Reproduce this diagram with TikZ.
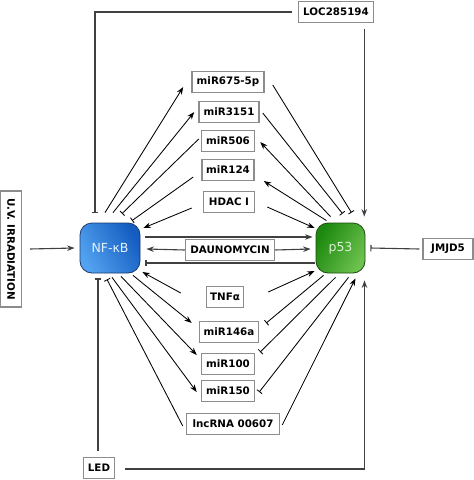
\documentclass[tikz,border=0pt]{standalone}
\usepackage{fontspec}
\setmainfont{DejaVu Sans}
\usetikzlibrary{arrows.meta,calc}
\definecolor{boxgray}{HTML}{8C8C8C}
\definecolor{nfA}{HTML}{52A2F0}
\definecolor{nfB}{HTML}{145CC0}
\definecolor{nfD}{HTML}{1A3A6E}
\definecolor{pA}{HTML}{1C880E}
\definecolor{pB}{HTML}{6CC24E}
\definecolor{pD}{HTML}{1E4A12}
\definecolor{lineT}{HTML}{404040}
\begin{document}
\begin{tikzpicture}[x=1pt,y=-1pt,
  box/.style={draw=boxgray, line width=1.5pt, fill=white, font=\bfseries\fontsize{10.3}{12}\selectfont, minimum height=21pt, inner sep=0pt, text=black},
  core/.style={rounded corners=12pt, line width=0.8pt, minimum height=50pt, inner sep=0pt, font=\fontsize{12.5}{14}\selectfont},
  ln/.style={line width=0.85pt, black},
  lnT/.style={line width=1.1pt, lineT},
  act/.style={ln, -{Stealth[length=7.5pt,width=5.5pt]}},
  inh/.style={ln, -{Bar[width=6.5pt]}},
  actT/.style={lnT, -{Stealth[length=7.5pt,width=5.5pt]}},
  inhT/.style={lnT, -{Bar[width=6.5pt]}}]
\fill[white] (0,0) rectangle (474,480);
\useasboundingbox (0,0) rectangle (474,480);

% core nodes
\node[core, minimum width=60pt, draw=nfD, left color=nfA, right color=nfB, shading angle=120, text=white!85!nfA] (nfkb) at (110,248) {NF-κB};
\node[core, minimum width=49pt, draw=pD, left color=pA, right color=pB, shading angle=60, text=white!75!pB] (p53) at (340.5,248) {p53};

% boxes
\node[box,minimum width=75pt] (loc) at (336,12) {LOC285194};
\node[box,minimum width=72pt] (m675) at (228,82) {miR675-5p};
\node[box,minimum width=60pt] (m3151) at (229,112) {miR3151};
\node[box,minimum width=53pt] (m506) at (228,141) {miR506};
\node[box,minimum width=52pt] (m124) at (228,170) {miR124};
\node[box,minimum width=51pt] (hdac) at (229,202) {HDAC I};
\node[box,minimum width=89pt] (daun) at (230,250) {DAUNOMYCIN};
\node[box,minimum width=37pt] (tnf) at (225,297) {TNFα};
\node[box,minimum width=59pt] (m146) at (229,332) {miR146a};
\node[box,minimum width=53pt] (m100) at (228,364) {miR100};
\node[box,minimum width=53pt] (m150) at (228,391) {miR150};
\node[box,minimum width=93pt] (lnc) at (233,424) {lncRNA 00607};
\node[box,minimum width=31pt] (led) at (99,468) {LED};
\node[box,minimum width=50pt] (jmjd) at (448,249) {JMJD5};
\node[box,minimum width=116pt, rotate=-90] (uv) at (11,249) {U.V. IRRADIATION};

% LOC285194
\coordinate (locL) at ($(loc.west)+(-6,0)$);
\coordinate (nLOC) at ($(nfkb.north)+(-15,-10)$);
\draw[inhT] (locL) -| (nLOC);
\coordinate (locB) at ($(loc.south east)+(-10,6)$);
\coordinate (pLOC) at ($(p53.north)+(23,-6)$);
\draw[actT] (locB) -- (locB |- pLOC);

% top left
\draw[act] ($(nfkb.north)+(-5,-10)$) -- ($(m675.west)+(-8,5)$);
\draw[act] ($(nfkb.north)+(3,-10)$) -- ($(m3151.west)+(-4,0)$);
\draw[inh] ($(m506.west)+(-2,-2)$) -- ($(nfkb.north)+(12,-9)$);
\draw[inh] ($(m124.west)+(-8,7)$) -- ($(nfkb.north)+(22,-2)$);
\draw[act] ($(hdac.west)+(-11,6)$) -- ($(nfkb.east)+(3,-20)$);

% top right
\draw[inh] ($(m675.east)+(8,3)$) -- ($(p53.north)+(11,-10)$);
\draw[inh] ($(m3151.east)+(3,1)$) -- ($(p53.north)+(2,-9)$);
\draw[act] ($(p53.north)+(-10,-6)$) -- ($(m506.east)+(5,1)$);
\draw[act] ($(p53.north)+(-14,-2)$) -- ($(m124.east)+(9,11)$);
\draw[act] ($(hdac.east)+(12,5)$) -- ($(p53.west)+(-1,-20)$);

% middle
\draw[actT] ($(nfkb.east)+(5,-11)$) -- ($(p53.west)+(-3,-11)$);
\draw[actT] (daun.west) -- ($(nfkb.east)+(6,1)$);
\draw[actT] (daun.east) -- ($(p53.west)+(-5,1)$);
\draw[inhT] ($(p53.west)+(-1,15)$) -- ($(nfkb.east)+(5,15)$);
\draw[actT] ($(uv.center)+(19,0)$) -- ($(nfkb.west)+(-5,0)$);
\draw[inhT] ($(jmjd.west)+(-3,0)$) -- ($(p53.east)+(5,0)$);

% bottom left
\draw[act] ($(tnf.west)+(-25,-4)$) -- ($(nfkb.east)+(2,24)$);
\draw[act] ($(nfkb.south)+(23,2)$) -- ($(m146.west)+(-7,-9)$);
\draw[act] ($(nfkb.south)+(11,3)$) -- ($(m100.west)+(-4,-9)$);
\draw[act] ($(nfkb.south)+(2,4)$) -- ($(m150.west)+(-4,1)$);
\draw[inh] ($(lnc.west)+(-3,2)$) -- ($(nfkb.south)+(-3,6)$);
\draw[inhT] ($(led.north)+(-1,-6)$) -- ($(nfkb.south)+(-12,5)$);

% bottom right
\draw[act] ($(tnf.east)+(24,-5)$) -- ($(p53.west)+(-1,23)$);
\draw[inh] ($(p53.south)+(-17,2)$) -- ($(m146.east)+(7,-9)$);
\draw[inh] ($(p53.south)+(-5,4)$) -- ($(m100.east)+(5,-12)$);
\draw[inh] ($(p53.south)+(8,4)$) -- ($(m150.east)+(4,1)$);
\draw[act] ($(lnc.east)+(2,1)$) -- ($(p53.south)+(15,5)$);
\draw[actT] ($(led.east)+(10,1)$) -| ($(p53.south)+(24,7)$);
\end{tikzpicture}
\end{document}
